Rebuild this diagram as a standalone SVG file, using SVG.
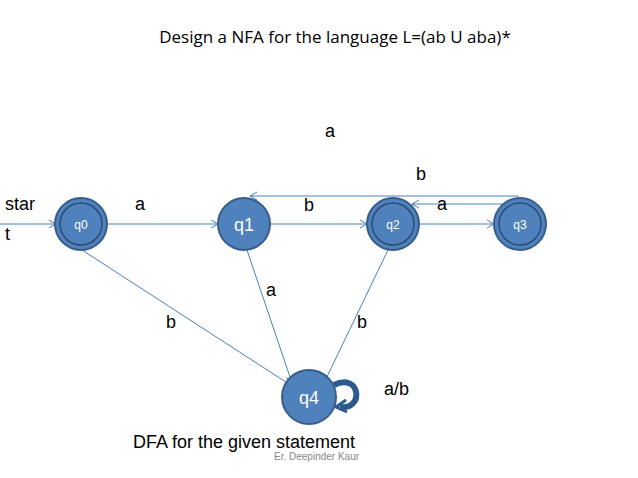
<svg xmlns="http://www.w3.org/2000/svg" width="638" height="478" viewBox="0 0 638 478">
<defs>
<marker id="ar" markerWidth="10" markerHeight="10" refX="8" refY="5" orient="auto" markerUnits="userSpaceOnUse"><path d="M1,1 L8,5 L1,9" fill="none" stroke="#4a7ebb" stroke-width="1"/></marker>
</defs>
<style>
.n{fill:#4f81bd;stroke:#385d8a;stroke-width:2}
.in{fill:none;stroke:#2c4d75;stroke-width:1.5}
.e{fill:none;stroke:#4a7ebb;stroke-width:1;marker-end:url(#ar)}
.t{font-family:"Liberation Sans",Arial,sans-serif;font-size:18px;fill:#000}
.w{font-family:"Liberation Sans",Arial,sans-serif;fill:#fff;text-anchor:middle}
</style>
<rect width="638" height="478" fill="#fff"/>
<text x="335" y="43" text-anchor="middle" style="font-family:'Open Sans','Liberation Sans',sans-serif;font-size:17px">Design a NFA for the language L=(ab U aba)*</text>
<g id="edges">
<line class="e" x1="0" y1="224" x2="56" y2="224"/>
<line class="e" x1="106" y1="224" x2="218" y2="224"/>
<line class="e" x1="269" y1="224" x2="367" y2="224"/>
<line class="e" x1="418" y1="224" x2="494" y2="224"/>
<polyline class="e" points="518,199 518,196 250,196"/>
<line class="e" x1="507" y1="204" x2="412" y2="204"/>
<line class="e" x1="82" y1="250" x2="292" y2="386"/>
<line class="e" x1="247" y1="250" x2="292" y2="383"/>
<line class="e" x1="388" y1="250" x2="323" y2="385"/>
<path d="M334,385 C360,372 365,410 340,407" fill="none" stroke="#2c5a8f" stroke-width="6"/>
<path d="M346,400 L336,407 L347,412" fill="none" stroke="#2c5a8f" stroke-width="3"/>
</g>
<g id="q0"><circle class="n" cx="81" cy="224" r="26"/><circle class="in" cx="81" cy="224" r="21"/><text class="w" x="81" y="229" font-size="12">q0</text></g>
<g id="q1"><circle class="n" cx="244" cy="224" r="26"/><text class="w" x="244" y="231" font-size="18">q1</text></g>
<g id="q2"><circle class="n" cx="393" cy="224" r="26"/><circle class="in" cx="393" cy="224" r="21"/><text class="w" x="393" y="229" font-size="12">q2</text></g>
<g id="q3"><circle class="n" cx="520" cy="224" r="26"/><circle class="in" cx="520" cy="224" r="21"/><text class="w" x="520" y="229" font-size="12">q3</text></g>
<g id="q4"><circle class="n" cx="309" cy="397" r="27"/><text class="w" x="309" y="404" font-size="18">q4</text></g>
<g id="labels">
<text class="t" x="5" y="210">star</text><text class="t" x="5" y="240">t</text>
<text class="t" x="135" y="210">a</text>
<text class="t" x="304" y="211">b</text>
<text class="t" x="437" y="210">a</text>
<text class="t" x="416" y="180">b</text>
<text class="t" x="325" y="137">a</text>
<text class="t" x="266" y="296">a</text>
<text class="t" x="166" y="328">b</text>
<text class="t" x="357" y="328">b</text>
<text class="t" x="384" y="395">a/b</text>
<text class="t" x="133" y="448" font-size="20">DFA for the given statement</text>
<text x="274" y="460" style="font-family:'Liberation Sans',sans-serif;font-size:10px;fill:#888">Er. Deepinder Kaur</text>
</g>
</svg>
